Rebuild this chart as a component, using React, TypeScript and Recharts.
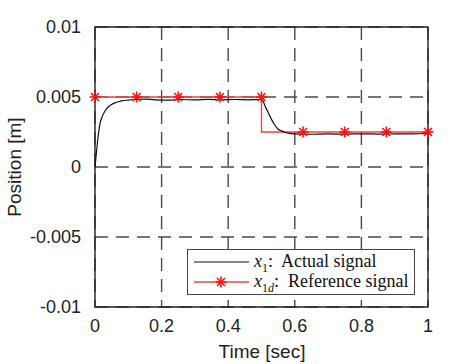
import React from "react";
import { LineChart, Line, XAxis, YAxis, CartesianGrid, ReferenceArea } from "recharts";

const xTicks = [0, 0.2, 0.4, 0.6, 0.8, 1];
const yTicks = [-0.01, -0.005, 0, 0.005, 0.01];

const actualTime = [0, 0.005, 0.01, 0.015, 0.02, 0.03, 0.04, 0.05, 0.06, 0.07, 0.08, 0.1, 0.12, 0.15, 0.18, 0.22, 0.26, 0.3, 0.34, 0.38, 0.42, 0.46, 0.5, 0.505, 0.51, 0.52, 0.53, 0.54, 0.55, 0.56, 0.57, 0.58, 0.6, 0.65, 0.7, 0.75, 0.8, 0.85, 0.9, 0.95, 1.0];
const actualValue = [0, 0.0012, 0.0023, 0.0031, 0.0035, 0.004, 0.0043, 0.00447, 0.00458, 0.00466, 0.00472, 0.00478, 0.00482, 0.00485, 0.0048, 0.00478, 0.00482, 0.00479, 0.00483, 0.0048, 0.00482, 0.0048, 0.00482, 0.0047, 0.0044, 0.0039, 0.0034, 0.003, 0.0027, 0.00258, 0.00248, 0.00242, 0.00236, 0.00234, 0.00236, 0.00235, 0.00237, 0.00235, 0.00236, 0.00237, 0.00238];

const refTime = [0, 0.125, 0.25, 0.375, 0.5, 0.625, 0.75, 0.875, 1];
const refValue = [0.005, 0.005, 0.005, 0.005, 0.005, 0.0025, 0.0025, 0.0025, 0.0025];

const actualData = actualTime.map((t, i) => ({ t, v: actualValue[i] }));
const refData = refTime.map((t, i) => ({ t, v: refValue[i] }));

const Asterisk = (props: any) => {
  const { cx, cy, index } = props;
  if (cx == null || cy == null) return <g key={index} />;
  const r = 5.5;
  const d = r * 0.72;
  return (
    <g key={`m${index}`} stroke="#ff1010" strokeWidth={1.6}>
      <line x1={cx - r} y1={cy} x2={cx + r} y2={cy} />
      <line x1={cx} y1={cy - r} x2={cx} y2={cy + r} />
      <line x1={cx - d} y1={cy - d} x2={cx + d} y2={cy + d} />
      <line x1={cx - d} y1={cy + d} x2={cx + d} y2={cy - d} />
    </g>
  );
};

const fmtY = (v: number) => {
  if (Math.abs(v) < 1e-12) return "0";
  return String(v);
};

const sans = "'Liberation Sans', Arial, sans-serif";
const serif = "'Liberation Serif', 'Times New Roman', serif";

const XTitle = () => (
  <text x={262} y={358} textAnchor="middle" fontSize={19} fill="#222" fontFamily={sans}>
    Time [sec]
  </text>
);
const YTitle = () => (
  <text x={21} y={167} textAnchor="middle" fontSize={19} fill="#222" fontFamily={sans} transform="rotate(-90 21 167)">
    Position [m]
  </text>
);

export default function App() {
  return (
    <div style={{ position: "absolute", left: 0, top: 0, width: 474, height: 364, background: "#fff" }}>
      <LineChart width={474} height={364} margin={{ top: 27, right: 46, left: 0, bottom: 0 }}>
        <CartesianGrid stroke="#4a4a4a" strokeWidth={1.4} strokeDasharray="13 8" />
        <XAxis
          type="number"
          dataKey="t"
          domain={[0, 1]}
          ticks={xTicks}
          height={57}
          tickLine={false}
          axisLine={false}
          tick={{ fontSize: 18, fill: "#222", fontFamily: sans }}
          tickMargin={6}
          label={{ content: XTitle }}
          allowDuplicatedCategory={false}
        />
        <YAxis
          type="number"
          domain={[-0.01, 0.01]}
          ticks={yTicks}
          width={95}
          tickLine={false}
          axisLine={false}
          tickFormatter={fmtY}
          tick={{ fontSize: 18, fill: "#222", fontFamily: sans }}
          tickMargin={8}
          label={{ content: YTitle }}
        />
        <ReferenceArea x1={0} x2={1} y1={-0.01} y2={0.01} fill="none" stroke="#222" strokeWidth={1.4} ifOverflow="extendDomain" />
        <Line
          data={refData}
          dataKey="v"
          type="stepBefore"
          stroke="#ee4444"
          strokeWidth={1.4}
          dot={Asterisk}
          isAnimationActive={false}
        />
        <Line
          data={actualData}
          dataKey="v"
          type="monotone"
          stroke="#111"
          strokeWidth={1.2}
          dot={false}
          isAnimationActive={false}
        />
      </LineChart>
      <div
        style={{
          position: "absolute",
          left: 187,
          top: 249,
          width: 226,
          height: 44,
          border: "1px solid #444",
          background: "#fff",
          fontFamily: serif,
          fontSize: 18,
          color: "#111",
        }}
      >
        <svg width={70} height={44} style={{ position: "absolute", left: 0, top: 0 }}>
          <line x1={6} y1={12} x2={61} y2={12} stroke="#111" strokeWidth={1.2} />
          <line x1={6} y1={32} x2={61} y2={32} stroke="#ee4444" strokeWidth={1.4} />
          <Asterisk cx={33} cy={32} index={99} />
        </svg>
        <div style={{ position: "absolute", left: 66, top: 1, whiteSpace: "nowrap", lineHeight: "20px" }}>
          <i>x</i><sub style={{ fontSize: 12, lineHeight: 0 }}>1</sub>:&nbsp; Actual signal
        </div>
        <div style={{ position: "absolute", left: 66, top: 21, whiteSpace: "nowrap", lineHeight: "20px" }}>
          <i>x</i><sub style={{ fontSize: 12, lineHeight: 0 }}>1<i>d</i></sub>:&nbsp; Reference signal
        </div>
      </div>
    </div>
  );
}
